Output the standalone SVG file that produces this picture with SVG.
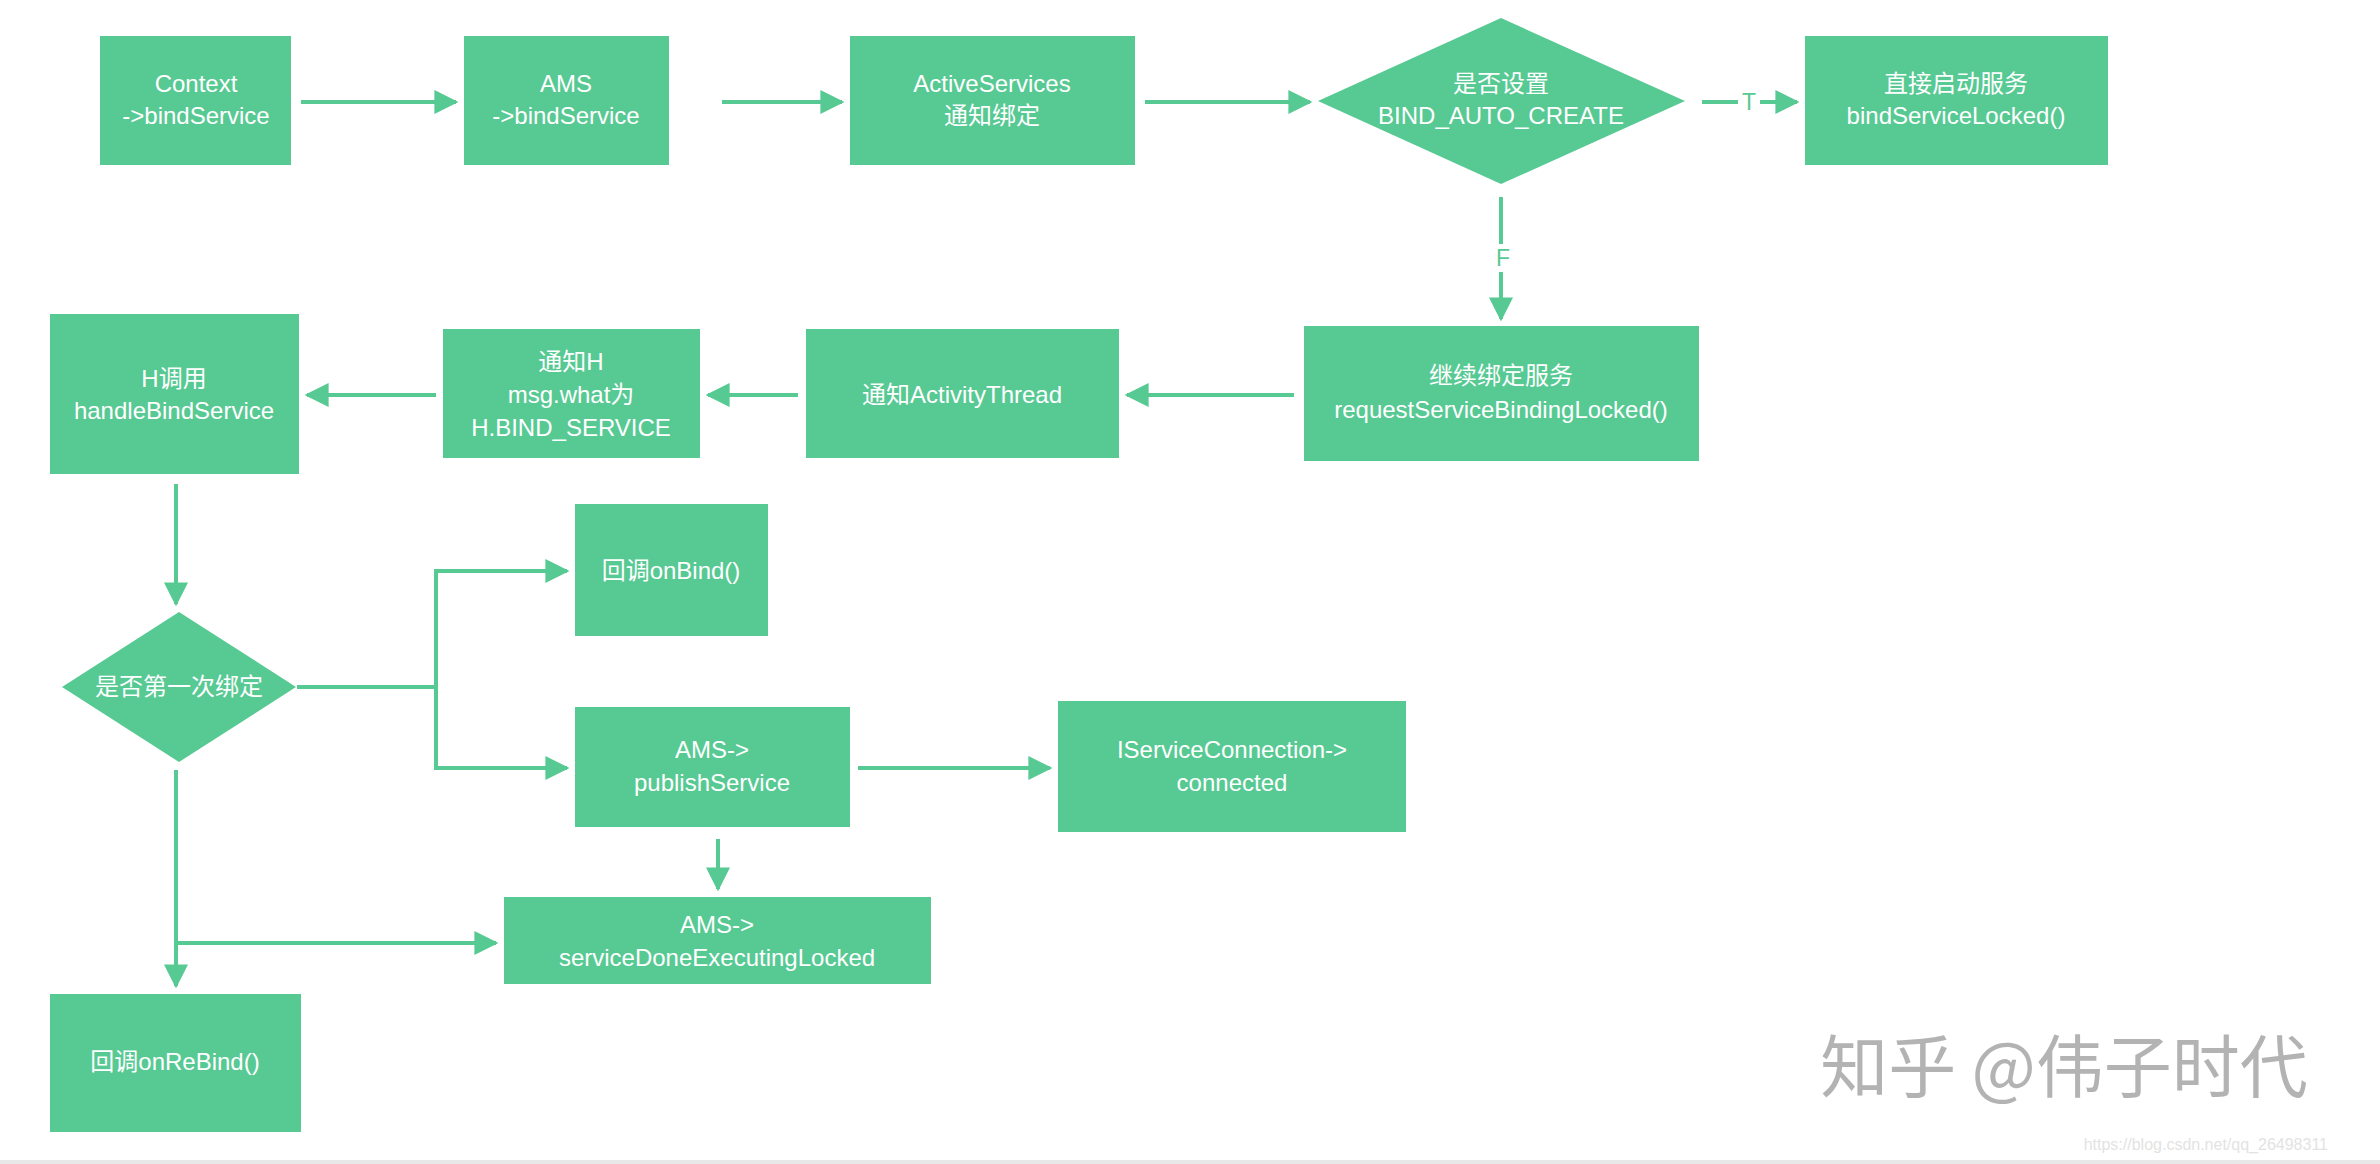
<svg xmlns="http://www.w3.org/2000/svg" width="2380" height="1164" viewBox="0 0 2380 1164">
<style>
.n{fill:#57C993}
.t{fill:#fff;font-family:"Liberation Sans","Noto Sans CJK SC",sans-serif;font-size:24px;text-anchor:middle}
.c{stroke:#57C993;stroke-width:4;fill:none}
.l{fill:#57C993;font-family:"Liberation Sans",sans-serif;font-size:23px;text-anchor:middle}
</style>
<defs><marker id="a" viewBox="0 0 10 10" refX="9" refY="5" markerWidth="6" markerHeight="6" markerUnits="strokeWidth" orient="auto"><path d="M0,0L10,5L0,10z" fill="#57C993"/></marker></defs>
<rect width="2380" height="1164" fill="#fff"/>
<g id="n1"><rect class="n" x="100" y="36" width="191" height="129"/><text class="t" x="196" y="92">Context</text><text class="t" x="196" y="124">-&gt;bindService</text></g>
<g id="n2"><rect class="n" x="464" y="36" width="205" height="129"/><text class="t" x="566" y="92">AMS</text><text class="t" x="566" y="124">-&gt;bindService</text></g>
<g id="n3"><rect class="n" x="850" y="36" width="285" height="129"/><text class="t" x="992" y="92">ActiveServices</text><text class="t" x="992" y="124">通知绑定</text></g>
<g id="n4"><polygon class="n" points="1501,18 1685,101 1501,184 1318,101"/><text class="t" x="1501" y="92">是否设置</text><text class="t" x="1501" y="124">BIND_AUTO_CREATE</text></g>
<g id="n5"><rect class="n" x="1805" y="36" width="303" height="129"/><text class="t" x="1956" y="92">直接启动服务</text><text class="t" x="1956" y="124">bindServiceLocked()</text></g>
<g id="n6"><rect class="n" x="1304" y="326" width="395" height="135"/><text class="t" x="1501" y="384">继续绑定服务</text><text class="t" x="1501" y="418">requestServiceBindingLocked()</text></g>
<g id="n7"><rect class="n" x="806" y="329" width="313" height="129"/><text class="t" x="962" y="403">通知ActivityThread</text></g>
<g id="n8"><rect class="n" x="443" y="329" width="257" height="129"/><text class="t" x="571" y="370">通知H</text><text class="t" x="571" y="403">msg.what为</text><text class="t" x="571" y="436">H.BIND_SERVICE</text></g>
<g id="n9"><rect class="n" x="50" y="314" width="249" height="160"/><text class="t" x="174" y="387">H调用</text><text class="t" x="174" y="419">handleBindService</text></g>
<g id="n10"><polygon class="n" points="179,612 296,687 179,762 62,687"/><text class="t" x="179" y="695">是否第一次绑定</text></g>
<g id="n11"><rect class="n" x="575" y="504" width="193" height="132"/><text class="t" x="671" y="579">回调onBind()</text></g>
<g id="n12"><rect class="n" x="575" y="707" width="275" height="120"/><text class="t" x="712" y="758">AMS-&gt;</text><text class="t" x="712" y="791">publishService</text></g>
<g id="n13"><rect class="n" x="1058" y="701" width="348" height="131"/><text class="t" x="1232" y="758">IServiceConnection-&gt;</text><text class="t" x="1232" y="791">connected</text></g>
<g id="n14"><rect class="n" x="504" y="897" width="427" height="87"/><text class="t" x="717" y="933">AMS-&gt;</text><text class="t" x="717" y="966">serviceDoneExecutingLocked</text></g>
<g id="n15"><rect class="n" x="50" y="994" width="251" height="138"/><text class="t" x="175" y="1070">回调onReBind()</text></g>
<g id="connectors">
<path class="c" marker-end="url(#a)" d="M301,102H456"/>
<path class="c" marker-end="url(#a)" d="M722,102H842"/>
<path class="c" marker-end="url(#a)" d="M1145,102H1310"/>
<path class="c" marker-end="url(#a)" d="M1702,102H1797"/>
<rect x="1738" y="88" width="22" height="28" fill="#fff"/><text class="l" x="1749" y="110">T</text>
<path class="c" marker-end="url(#a)" d="M1501,197V319"/>
<rect x="1490" y="244" width="22" height="28" fill="#fff"/><text class="l" x="1503" y="266">F</text>
<path class="c" marker-end="url(#a)" d="M1294,395H1127"/>
<path class="c" marker-end="url(#a)" d="M798,395H708"/>
<path class="c" marker-end="url(#a)" d="M436,395H307"/>
<path class="c" marker-end="url(#a)" d="M176,484V604"/>
<path class="c" marker-end="url(#a)" d="M297,687H436V571H567"/>
<path class="c" marker-end="url(#a)" d="M436,687V768H567"/>
<path class="c" marker-end="url(#a)" d="M858,768H1050"/>
<path class="c" marker-end="url(#a)" d="M718,839V889"/>
<path class="c" marker-end="url(#a)" d="M176,770V986"/>
<path class="c" marker-end="url(#a)" d="M176,943H496"/>
</g>
<text x="2064" y="1092" fill="#b3b3b3" font-family="Noto Sans CJK SC,sans-serif" font-size="68" text-anchor="middle">知乎 @伟子时代</text>
<text x="2328" y="1150" fill="#e3e3e3" font-family="Liberation Sans,sans-serif" font-size="16" text-anchor="end">https://blog.csdn.net/qq_26498311</text>
<rect x="0" y="1160" width="2380" height="4" fill="#e8e8e8"/>
</svg>
